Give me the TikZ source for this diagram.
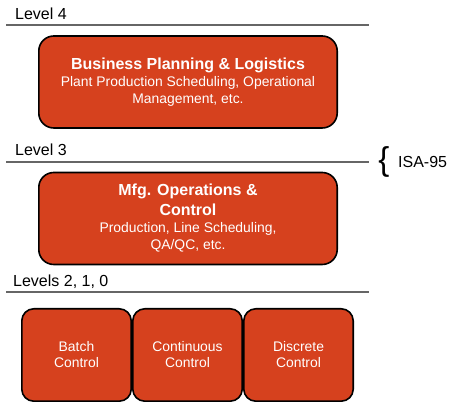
\documentclass[tikz,border=0pt]{standalone}
\usepackage{fontspec}
\setmainfont{Liberation Sans}
\usepackage{xcolor}
\usetikzlibrary{positioning}
\definecolor{isared}{RGB}{214,65,30}
\colorlet{rulegray}{black!60}

\begin{document}
\begin{tikzpicture}[x=1pt,y=1pt]
    % ------- style -------
    \tikzset{%
        block/.style={%
            draw=black, line width=1.6pt, fill=isared, text=white,
            rounded corners=15pt, align=center, inner sep=0pt,
            minimum width=298.4pt, minimum height=92pt,
            font=\fontsize{13.9}{17}\selectfont,
        },
        small block/.style={%
            block, rounded corners=12pt, minimum width=109.4pt, minimum height=92.4pt,
            font=\fontsize{13.9}{16}\selectfont,
        },
        level/.style={anchor=base west, inner sep=0pt, font=\fontsize{16}{19}\selectfont},
        level rule/.style={rulegray, line width=2.2pt},
    }
    \newcommand\heading[1]{{\bfseries\fontsize{16}{17}\selectfont #1}}

    \useasboundingbox (0,0) rectangle (451,413);

    % ------- level 4 -------
    \node[level] (L4-label) at (15,393) {Level 4};
    \coordinate (L4-w) at (6,388);
    \coordinate (L4-e) at (369,388);
    \draw[level rule] (L4-w) -- (L4-e);
    \node[block] (L4) at (188,331) {%
        \heading{Business Planning \& Logistics}\\
        Plant Production Scheduling, Operational\\
        Management, etc.};

    % ------- level 3 -------
    \node[level] (L3-label) at (15,257) {Level 3};
    \coordinate (L3-w) at (6,251);
    \coordinate (L3-e) at (369,251);
    \draw[level rule] (L3-w) -- (L3-e);
    \node[block] (L3) at (188,194.5) {%
        \heading{Mfg. Operations \&}\\[3pt]
        \heading{Control}\\
        Production, Line Scheduling,\\
        QA/QC, etc.};

    \node[inner sep=0pt, font=\fontsize{33}{33}\selectfont] (brace) at (384,251) {\{};
    \node[level] (isa) at (398,245) {ISA-95};

    % ------- levels 2, 1, 0 -------
    \node[level] (L210-label) at (13,126) {Levels 2, 1, 0};
    \coordinate (L210-w) at (6,121);
    \coordinate (L210-e) at (369,121);
    \draw[level rule] (L210-w) -- (L210-e);
    \node[small block] (batch) at (76.5,58) {Batch\\Control};
    \node[small block, right=0pt of batch] (continuous) {Continuous\\Control};
    \node[small block, right=0pt of continuous] (discrete) {Discrete\\Control};
\end{tikzpicture}
\end{document}
